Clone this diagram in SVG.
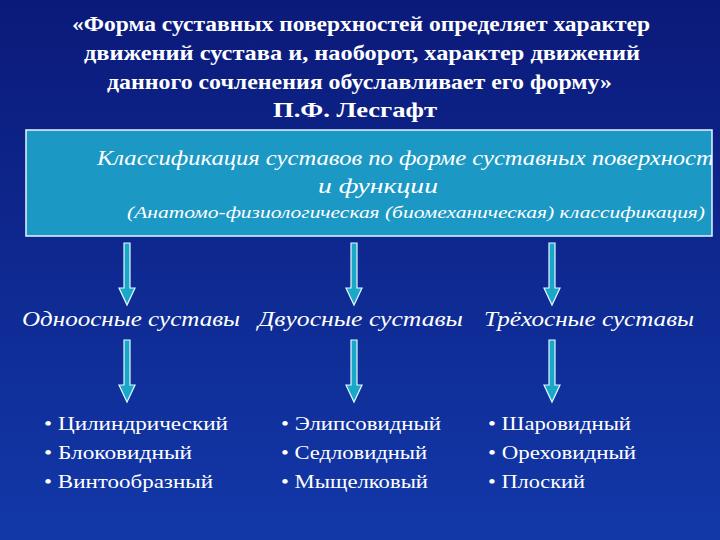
<svg xmlns="http://www.w3.org/2000/svg" width="720" height="540" viewBox="0 0 720 540">
<defs>
<linearGradient id="bg" x1="0" y1="0" x2="0" y2="1"><stop offset="0" stop-color="#0b1a7a"/><stop offset="1" stop-color="#1238a8"/></linearGradient>
<path id="arr" d="M-3,0 H3 V45 H8 L0,62 L-8,45 H-3 Z"/>
</defs>
<style>
.t{font-family:"Liberation Serif",serif;fill:#fff}
.ar{fill:#1aa8c8;stroke:#e8f8ff;stroke-width:1.2}
</style>
<rect width="720" height="540" fill="url(#bg)"/>
<g id="title" class="t" font-weight="bold" font-size="21" lengthAdjust="spacingAndGlyphs">
<text x="72" y="31" textLength="578" lengthAdjust="spacingAndGlyphs">«Форма суставных поверхностей определяет характер</text>
<text x="84" y="60" textLength="556" lengthAdjust="spacingAndGlyphs">движений сустава и, наоборот, характер движений</text>
<text x="107" y="89" textLength="505" lengthAdjust="spacingAndGlyphs">данного сочленения обуславливает его форму»</text>
<text x="273" y="117" textLength="164" lengthAdjust="spacingAndGlyphs">П.Ф. Лесгафт</text>
</g>
<g id="box">
<rect x="26" y="130" width="686" height="106" fill="#1b98c4" stroke="#e8f4ff" stroke-width="1.5"/>
<svg x="26" y="130" width="686" height="106" overflow="hidden">
<text class="t" x="71" y="35" font-style="italic" font-size="21" textLength="640" lengthAdjust="spacingAndGlyphs">Классификация суставов по форме суставных поверхностей</text>
</svg>
<text class="t" x="318" y="193" font-style="italic" font-size="21" textLength="120" lengthAdjust="spacingAndGlyphs">и функции</text>
<text class="t" x="127" y="218" font-style="italic" font-size="16" textLength="578" lengthAdjust="spacingAndGlyphs">(Анатомо-физиологическая (биомеханическая) классификация)</text>
</g>
<g id="connectors" class="ar">
<use href="#arr" x="127" y="243"/>
<use href="#arr" x="354" y="243"/>
<use href="#arr" x="552" y="243"/>
<use href="#arr" x="127" y="340"/>
<use href="#arr" x="354" y="340"/>
<use href="#arr" x="552" y="340"/>
</g>
<g id="h1"><text class="t" x="22" y="326" font-style="italic" font-size="21" textLength="218" lengthAdjust="spacingAndGlyphs">Одноосные суставы</text></g>
<g id="h2"><text class="t" x="258" y="326" font-style="italic" font-size="21" textLength="205" lengthAdjust="spacingAndGlyphs">Двуосные суставы</text></g>
<g id="h3"><text class="t" x="484" y="326" font-style="italic" font-size="21" textLength="210" lengthAdjust="spacingAndGlyphs">Трёхосные суставы</text></g>
<g id="l1" class="t" font-size="19"><text x="44" y="430" textLength="184" lengthAdjust="spacingAndGlyphs">• Цилиндрический</text><text x="44" y="459" textLength="148" lengthAdjust="spacingAndGlyphs">• Блоковидный</text><text x="44" y="488" textLength="169" lengthAdjust="spacingAndGlyphs">• Винтообразный</text></g>
<g id="l2" class="t" font-size="19"><text x="281" y="430" textLength="160" lengthAdjust="spacingAndGlyphs">• Элипсовидный</text><text x="281" y="459" textLength="146" lengthAdjust="spacingAndGlyphs">• Седловидный</text><text x="281" y="488" textLength="147" lengthAdjust="spacingAndGlyphs">• Мыщелковый</text></g>
<g id="l3" class="t" font-size="19"><text x="488" y="430" textLength="143" lengthAdjust="spacingAndGlyphs">• Шаровидный</text><text x="488" y="459" textLength="148" lengthAdjust="spacingAndGlyphs">• Ореховидный</text><text x="488" y="488" textLength="97" lengthAdjust="spacingAndGlyphs">• Плоский</text></g>
</svg>
